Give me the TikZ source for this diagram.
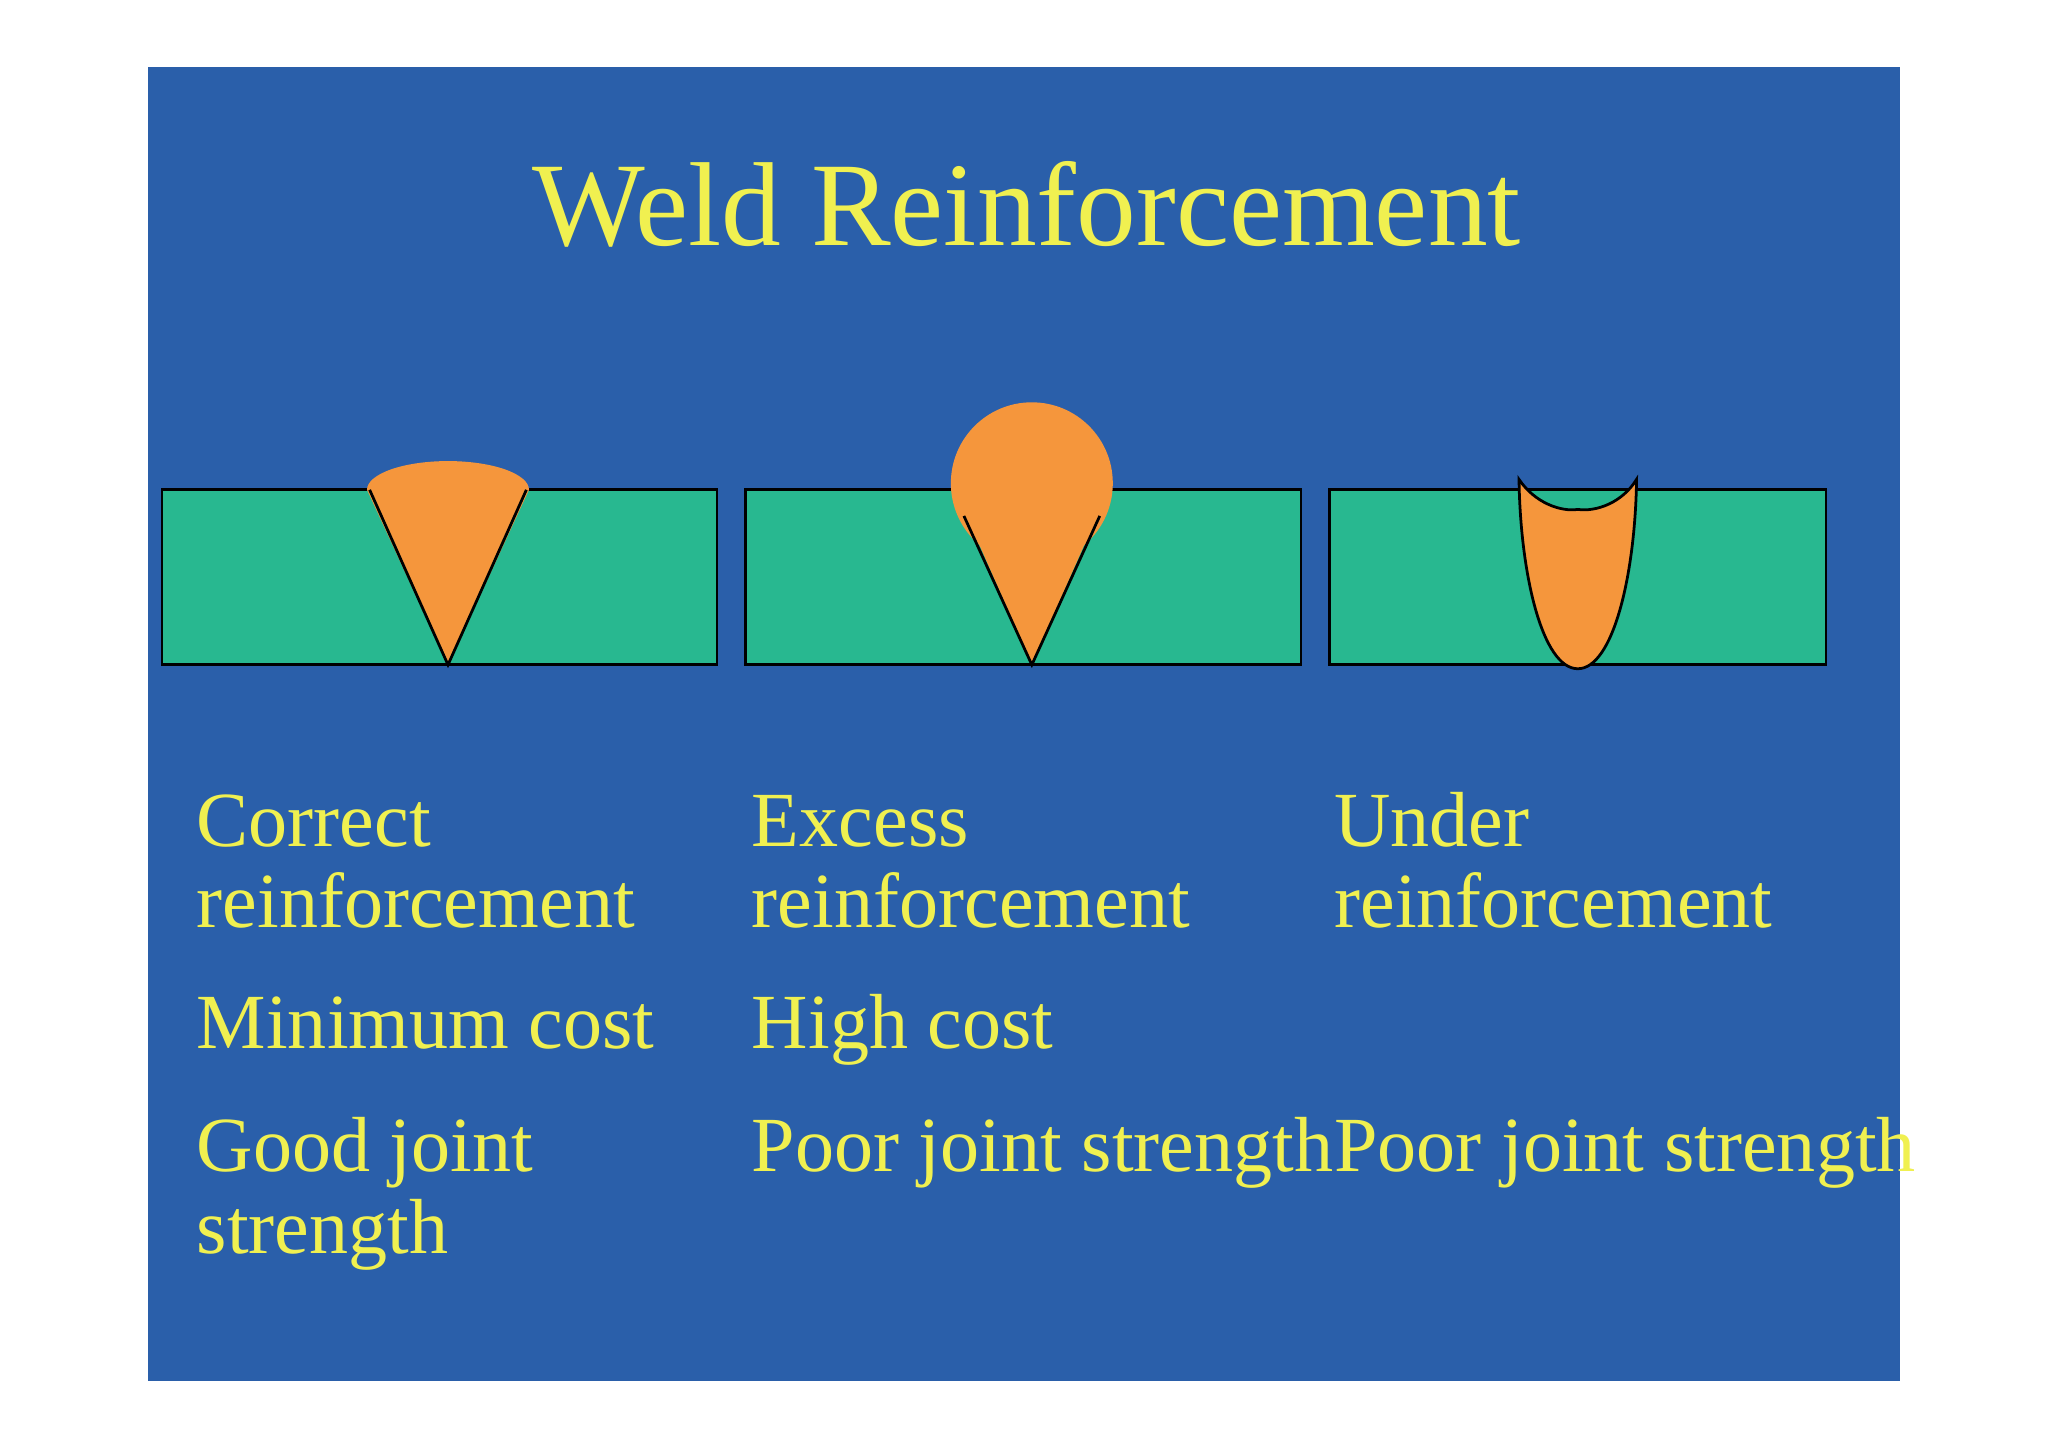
\documentclass[tikz,border=0pt]{standalone}
\usepackage{fontspec}
\setmainfont{Liberation Serif}
\definecolor{bg}{HTML}{2A5FAA}
\definecolor{metal}{HTML}{28B890}
\definecolor{weld}{HTML}{F5963C}
\definecolor{txt}{HTML}{F0F050}
\begin{document}
\begin{tikzpicture}[x=0.01cm,y=-0.01cm,
  lbl/.style={anchor=base west,inner sep=0,text=txt,font=\fontsize{17}{20}\selectfont},
  plate/.style={fill=metal,draw=black,line width=0.6pt},
  bead/.style={fill=weld,draw=none}]
\useasboundingbox (0,0) rectangle (1568,1108);
\fill[white] (0,0) rectangle (1568,1108);
\fill[bg] (113,51) rectangle (1455,1057);
\node[anchor=base,inner sep=0,text=txt,font=\fontsize{26}{30}\selectfont] (title) at (786,188) {Weld Reinforcement};
% panel 1
\draw[plate] (124,375) rectangle (549,509);
\fill[bead] (281,375) arc[start angle=180,end angle=0,x radius=62,y radius=-22] -- (343,509) -- cycle;
\draw[black,line width=0.6pt] (283,375) -- (343,509) -- (403,375);
% panel 2
\draw[plate] (571,375) rectangle (996,509);
\fill[bead] (790,370) circle[radius=62];
\fill[bead] (738,390) -- (790,509) -- (842,390) -- cycle;
\draw[black,line width=0.6pt] (738,395) -- (790,509) -- (842,395);
% panel 3
\draw[plate] (1018,375) rectangle (1398,509);
\draw[fill=weld,draw=black,line width=0.6pt] (1163,367) .. controls (1175,385) and (1195,392) .. (1208,390)
  .. controls (1222,392) and (1242,385) .. (1253,367)
  .. controls (1252,440) and (1235,512) .. (1208,512)
  .. controls (1181,512) and (1164,440) .. (1163,367) -- cycle;
% texts
\node[lbl] (a1) at (150,648) {Correct};
\node[lbl] (a2) at (150,710) {reinforcement};
\node[lbl] (a3) at (150,803) {Minimum cost};
\node[lbl] (a4) at (150,897) {Good joint};
\node[lbl] (a5) at (150,960) {strength};
\node[lbl] (b1) at (575,648) {Excess};
\node[lbl] (b2) at (575,710) {reinforcement};
\node[lbl] (b3) at (575,803) {High cost};
\node[lbl] (b4) at (575,897) {Poor joint strength};
\node[lbl] (c1) at (1021,648) {Under};
\node[lbl] (c2) at (1021,710) {reinforcement};
\node[lbl] (c4) at (1021,897) {Poor joint strength};
\end{tikzpicture}
\end{document}
